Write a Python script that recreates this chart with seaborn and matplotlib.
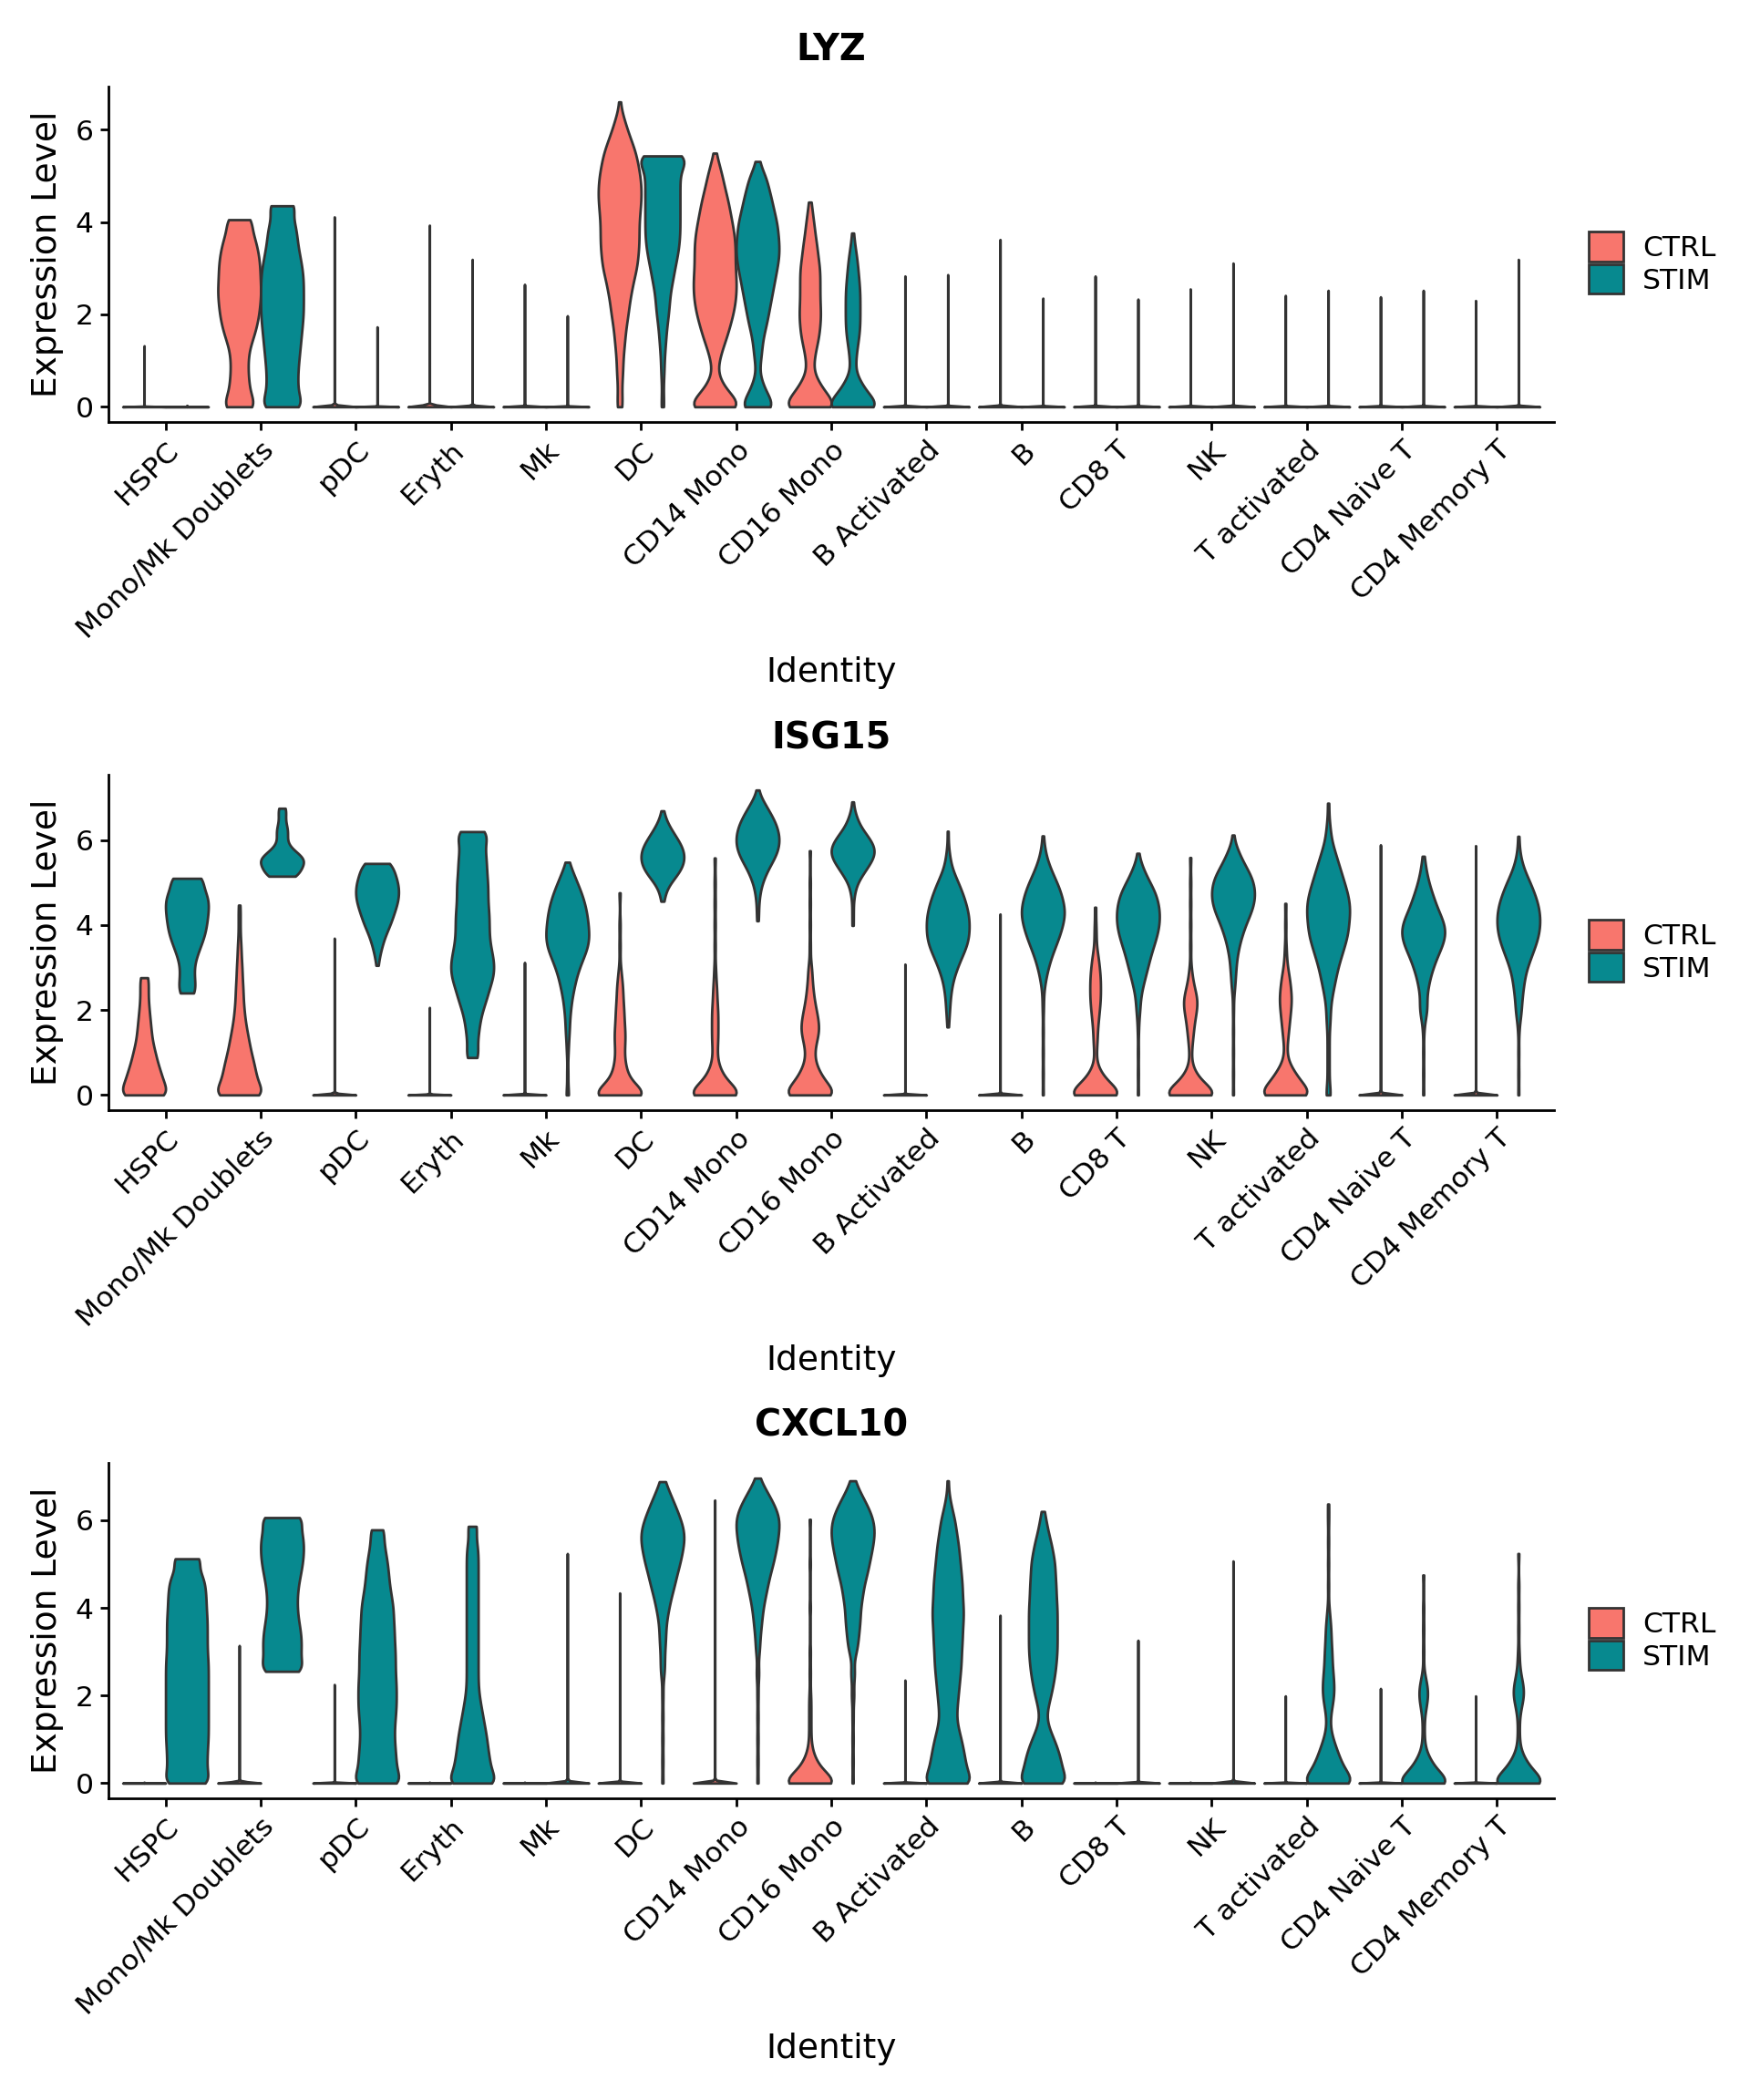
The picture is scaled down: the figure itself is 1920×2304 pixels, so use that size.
import matplotlib

matplotlib.use("Agg")
import matplotlib.pyplot as plt
import numpy as np
import pandas as pd
import seaborn as sns
from matplotlib.patches import Patch

CELL_TYPES = [
    "HSPC", "Mono/Mk Doublets", "pDC", "Eryth", "Mk", "DC", "CD14 Mono",
    "CD16 Mono", "B Activated", "B", "CD8 T", "NK", "T activated",
    "CD4 Naive T", "CD4 Memory T",
]
CONDITIONS = ["CTRL", "STIM"]
COLORS = ["#F8766D", "#07898F"]

# each violin = list of (expression value, number of cells)
LYZ_CTRL = [
    [(0, 2000), (1.32, 1)],
    [(0, 18), (0.25, 10), (0.5, 9), (0.75, 8), (1.0, 8), (1.25, 9), (1.5, 13), (1.75, 16),
     (2.0, 18), (2.25, 19), (2.5, 20), (2.75, 19), (3.0, 19), (3.25, 18), (3.5, 16),
     (3.75, 13), (4.05, 15)],
    [(0, 2000), (1.5, 1), (2.0, 1), (4.11, 1)],
    [(0, 2000), (0.9, 1), (1.3, 1), (2.6, 1), (3.4, 1), (3.93, 1)],
    [(0, 2000), (2.65, 1)],
    [(0, 3), (0.25, 2), (0.5, 2), (0.75, 3), (1.0, 3), (1.25, 4), (1.5, 5), (1.75, 6),
     (2.0, 8), (2.25, 9), (2.5, 11), (2.75, 13), (3.0, 16), (3.25, 17), (3.5, 18),
     (3.75, 18), (4.0, 18), (4.25, 19), (4.5, 20), (4.75, 20), (5.0, 19), (5.25, 17),
     (5.5, 15), (5.75, 11), (6.0, 7), (6.25, 4), (6.6, 1)],
    [(0, 30), (0.25, 15), (0.5, 7), (0.75, 2), (1.0, 4), (1.25, 7), (1.5, 11), (1.75, 14),
     (2.0, 17), (2.25, 19), (2.5, 20), (2.75, 20), (3.0, 19), (3.25, 19), (3.5, 19),
     (3.75, 18), (4.0, 16), (4.25, 14), (4.5, 12), (4.75, 9), (5.0, 7), (5.25, 4),
     (5.49, 1)],
    [(0, 32), (0.25, 17), (0.5, 10), (0.75, 3), (1.0, 4), (1.25, 6), (1.5, 9), (1.75, 10),
     (2.0, 11), (2.25, 10), (2.5, 10), (2.75, 10), (3.0, 10), (3.25, 8), (3.5, 7),
     (3.75, 5), (4.0, 4), (4.25, 2), (4.43, 1)],
    [(0, 2000), (2.83, 1)],
    [(0, 2000), (3.62, 1)],
    [(0, 2000), (2.83, 1)],
    [(0, 2000), (2.55, 1)],
    [(0, 2000), (2.41, 1)],
    [(0, 2000), (2.38, 1)],
    [(0, 2000), (2.30, 1)],
]
LYZ_STIM = [
    [(0, 2000), (0.03, 1)],
    [(0, 22), (0.25, 14), (0.5, 14), (0.75, 14), (1.0, 15), (1.25, 16), (1.5, 17),
     (1.75, 18), (2.0, 19), (2.25, 19), (2.5, 19), (2.75, 19), (3.0, 18), (3.25, 16),
     (3.5, 14), (3.75, 13), (4.0, 12), (4.35, 17)],
    [(0, 2000), (1.73, 1)],
    [(0, 2000), (1.8, 1), (3.19, 1)],
    [(0, 2000), (1.97, 1)],
    [(0, 2), (0.25, 1), (0.5, 1), (0.75, 2), (1.0, 2), (1.25, 3), (1.5, 4), (1.75, 5),
     (2.0, 7), (2.25, 8), (2.5, 9), (2.75, 12), (3.0, 14), (3.25, 17), (3.5, 19),
     (3.75, 20), (4.0, 20), (4.25, 20), (4.5, 20), (4.75, 20), (5.0, 20), (5.25, 20),
     (5.43, 28)],
    [(0, 19), (0.25, 9), (0.5, 5), (0.75, 1), (1.0, 3), (1.25, 4), (1.5, 5), (1.75, 8),
     (2.0, 10), (2.25, 12), (2.5, 14), (2.75, 16), (3.0, 18), (3.25, 20), (3.5, 20),
     (3.75, 19), (4.0, 18), (4.25, 15), (4.5, 13), (4.75, 10), (5.0, 8), (5.31, 2)],
    [(0, 32), (0.25, 15), (0.5, 9), (0.75, 2), (1.0, 3), (1.25, 4), (1.5, 6), (1.75, 7),
     (2.0, 7), (2.25, 7), (2.5, 7), (2.75, 6), (3.0, 5), (3.25, 4), (3.5, 2), (3.76, 1)],
    [(0, 2000), (2.86, 1)],
    [(0, 2000), (2.35, 1)],
    [(0, 2000), (2.33, 1)],
    [(0, 2000), (3.11, 1)],
    [(0, 2000), (2.52, 1)],
    [(0, 2000), (2.52, 1)],
    [(0, 2000), (3.19, 1)],
]

ISG15_CTRL = [
    [(0, 28), (0.25, 19), (0.5, 17), (0.75, 13), (1.0, 11), (1.25, 8), (1.5, 7),
     (1.75, 6), (2.0, 5), (2.25, 4), (2.5, 4), (2.76, 5)],
    [(0, 30), (0.25, 19), (0.5, 17), (0.75, 15), (1.0, 12), (1.25, 10), (1.5, 8),
     (1.75, 6), (2.0, 5), (2.25, 4), (2.5, 4), (2.75, 3), (3.0, 3), (3.25, 2), (3.5, 2),
     (3.75, 1), (4.0, 1), (4.25, 1), (4.47, 1)],
    [(0, 2000), (1.4, 1), (2.4, 1), (3.69, 1)],
    [(0, 2000), (1.3, 1), (2.06, 1)],
    [(0, 2000), (3.12, 1)],
    [(0, 32), (0.25, 12), (0.5, 7), (0.75, 5), (1.0, 4), (1.25, 5), (1.5, 5), (1.75, 4),
     (2.0, 4), (2.25, 3), (2.5, 3), (2.75, 2), (3.0, 1), (3.5, 1), (4.0, 1), (4.76, 1)],
    [(0, 32), (0.25, 14), (0.5, 7), (0.75, 3), (1.0, 2), (1.25, 3), (1.5, 3), (1.75, 3),
     (2.0, 3), (2.25, 2), (2.5, 2), (2.75, 1), (3.0, 1), (3.5, 1), (4.0, 1), (4.5, 1),
     (5.0, 1), (5.58, 1)],
    [(0, 30), (0.25, 16), (0.5, 10), (0.75, 5), (1.0, 4), (1.25, 6), (1.5, 9), (1.75, 8),
     (2.0, 6), (2.25, 4), (2.5, 3), (2.75, 2), (3.0, 2), (3.5, 1), (4.0, 1), (4.5, 1),
     (5.0, 1), (5.75, 1)],
    [(0, 2000), (3.08, 1)],
    [(0, 2000), (4.26, 1)],
    [(0, 32), (0.25, 14), (0.5, 6), (0.75, 1), (1.0, 1), (1.25, 2), (1.5, 2), (1.75, 3),
     (2.0, 4), (2.25, 5), (2.5, 5), (2.75, 5), (3.0, 4), (3.25, 3), (3.5, 1), (3.75, 1),
     (4.0, 1), (4.42, 1)],
    [(0, 32), (0.25, 13), (0.5, 5), (0.75, 1), (1.0, 1), (1.25, 2), (1.5, 3), (1.75, 4),
     (2.0, 6), (2.25, 7), (2.5, 4), (2.75, 2), (3.0, 1), (3.5, 1), (4.0, 1), (4.5, 1),
     (5.0, 1), (5.59, 1)],
    [(0, 30), (0.25, 16), (0.5, 10), (0.75, 3), (1.0, 1), (1.25, 2), (1.5, 3), (1.75, 4),
     (2.0, 5), (2.25, 6), (2.5, 5), (2.75, 4), (3.0, 2), (3.25, 1), (3.5, 1), (4.0, 1),
     (4.51, 1)],
    [(0, 2000), (5.89, 1)],
    [(0, 2000), (5.87, 1)],
]
ISG15_STIM = [
    [(2.4, 10), (2.6, 7), (2.8, 7), (3.0, 6), (3.2, 8), (3.4, 11), (3.6, 14), (3.8, 17),
     (4.0, 18), (4.2, 19), (4.4, 20), (4.6, 20), (4.8, 19), (5.1, 25)],
    [(5.15, 18), (5.25, 12), (5.35, 13), (5.45, 17), (5.55, 20), (5.65, 14), (5.75, 8),
     (5.85, 5), (5.95, 3), (6.05, 3), (6.15, 5), (6.25, 5), (6.35, 3), (6.45, 2),
     (6.55, 2), (6.65, 3), (6.75, 5)],
    [(3.05, 1), (3.25, 2), (3.45, 4), (3.65, 6), (3.85, 9), (4.05, 13), (4.25, 15),
     (4.45, 18), (4.65, 20), (4.85, 20), (5.05, 19), (5.25, 15), (5.45, 16)],
    [(0.88, 4), (1.0, 3), (1.25, 4), (1.5, 5), (1.75, 6), (2.0, 8), (2.25, 11), (2.5, 13),
     (2.75, 16), (3.0, 17), (3.25, 16), (3.5, 14), (3.75, 13), (4.0, 13), (4.25, 13),
     (4.5, 12), (4.75, 12), (5.0, 12), (5.25, 11), (5.5, 11), (5.75, 10), (6.0, 9),
     (6.2, 12)],
    [(0, 2), (0.5, 1), (1.0, 1), (1.25, 1), (1.5, 2), (1.75, 2), (2.0, 3), (2.25, 4),
     (2.5, 6), (2.75, 8), (3.0, 11), (3.25, 15), (3.5, 19), (3.75, 20), (4.0, 19),
     (4.25, 18), (4.5, 16), (4.75, 13), (5.0, 9), (5.25, 5), (5.48, 1)],
    [(4.56, 1), (4.7, 2), (4.9, 5), (5.1, 11), (5.3, 17), (5.5, 20), (5.7, 20), (5.9, 17),
     (6.1, 12), (6.3, 7), (6.5, 3), (6.69, 1)],
    [(4.1, 1), (4.3, 1), (4.5, 1), (4.7, 2), (4.9, 3), (5.1, 6), (5.3, 9), (5.5, 14),
     (5.7, 18), (5.9, 20), (6.1, 20), (6.3, 18), (6.5, 15), (6.7, 10), (6.9, 6),
     (7.18, 1)],
    [(3.99, 1), (4.3, 1), (4.6, 1), (4.8, 2), (5.0, 4), (5.2, 9), (5.4, 14), (5.6, 19),
     (5.8, 20), (6.0, 16), (6.2, 10), (6.4, 5), (6.6, 3), (6.9, 1)],
    [(1.6, 1), (1.8, 1), (2.0, 2), (2.2, 2), (2.4, 3), (2.6, 4), (2.8, 6), (3.0, 9),
     (3.2, 12), (3.4, 16), (3.6, 19), (3.8, 20), (4.0, 20), (4.2, 20), (4.4, 18),
     (4.6, 16), (4.8, 13), (5.0, 10), (5.2, 6), (5.4, 3), (5.6, 2), (5.8, 1), (6.21, 1)],
    [(0, 1), (0.5, 1), (1.0, 1), (1.5, 1), (2.0, 1), (2.3, 1), (2.6, 2), (2.8, 3),
     (3.0, 5), (3.2, 7), (3.4, 10), (3.6, 13), (3.8, 16), (4.0, 18), (4.2, 20), (4.4, 20),
     (4.6, 18), (4.8, 16), (5.0, 13), (5.2, 9), (5.4, 6), (5.6, 3), (5.8, 2), (6.1, 1)],
    [(0, 1), (0.5, 1), (1.0, 1), (1.5, 1), (1.8, 1), (2.0, 2), (2.2, 2), (2.4, 3),
     (2.6, 5), (2.8, 7), (3.0, 9), (3.2, 11), (3.4, 13), (3.6, 16), (3.8, 18), (4.0, 20),
     (4.2, 20), (4.4, 20), (4.6, 18), (4.8, 16), (5.0, 11), (5.2, 7), (5.4, 4),
     (5.69, 1)],
    [(0, 1), (0.5, 1), (1.0, 1), (1.5, 1), (2.0, 1), (2.4, 1), (2.6, 2), (2.8, 2),
     (3.0, 3), (3.2, 3), (3.4, 5), (3.6, 6), (3.8, 9), (4.0, 11), (4.2, 15), (4.4, 18),
     (4.6, 20), (4.8, 20), (5.0, 19), (5.2, 16), (5.4, 11), (5.6, 7), (5.8, 4),
     (6.12, 1)],
    [(0, 3), (0.25, 1), (0.5, 1), (0.75, 1), (1.0, 1), (1.25, 1), (1.5, 1), (1.75, 2),
     (2.0, 2), (2.25, 3), (2.5, 5), (2.75, 7), (3.0, 9), (3.25, 12), (3.5, 15),
     (3.75, 18), (4.0, 19), (4.25, 20), (4.5, 20), (4.75, 18), (5.0, 15), (5.25, 12),
     (5.5, 9), (5.75, 6), (6.0, 3), (6.25, 2), (6.5, 1), (6.87, 1)],
    [(0, 1), (0.5, 1), (1.0, 1), (1.5, 1), (1.8, 2), (2.0, 4), (2.2, 3), (2.4, 3),
     (2.6, 5), (2.8, 6), (3.0, 9), (3.2, 11), (3.4, 15), (3.6, 18), (3.8, 20), (4.0, 19),
     (4.2, 16), (4.4, 12), (4.6, 10), (4.8, 7), (5.0, 5), (5.2, 3), (5.4, 2), (5.62, 1)],
    [(0, 1), (0.5, 1), (1.0, 1), (1.5, 1), (1.8, 2), (2.0, 3), (2.2, 3), (2.4, 4),
     (2.6, 5), (2.8, 6), (3.0, 8), (3.2, 11), (3.4, 14), (3.6, 17), (3.8, 19), (4.0, 20),
     (4.2, 20), (4.4, 19), (4.6, 17), (4.8, 14), (5.0, 11), (5.2, 7), (5.4, 4), (5.6, 2),
     (5.8, 1), (6.09, 1)],
]

CXCL10_CTRL = [
    [(0, 2000), (0.02, 1)],
    [(0, 2000), (2.7, 1), (2.9, 1), (3.14, 1)],
    [(0, 2000), (2.25, 1)],
    [(0, 2000), (0.02, 1)],
    [(0, 2000), (0.02, 1)],
    [(0, 2000), (4.34, 1)],
    [(0, 2000), (6.46, 1)],
    [(0, 32), (0.25, 12), (0.5, 6), (0.75, 2), (1.0, 1), (1.25, 1), (1.5, 1), (1.75, 1),
     (2.0, 1), (2.5, 1), (3.0, 1), (4.0, 1), (5.0, 1), (6.02, 1)],
    [(0, 2000), (2.35, 1)],
    [(0, 2000), (3.83, 1)],
    [(0, 2000), (0.02, 1)],
    [(0, 2000), (0.02, 1)],
    [(0, 2000), (1.99, 1)],
    [(0, 2000), (2.16, 1)],
    [(0, 2000), (1.99, 1)],
]
CXCL10_STIM = [
    [(0, 25), (0.25, 18), (0.5, 19), (0.75, 19), (1.0, 20), (1.25, 20), (1.5, 20),
     (1.75, 20), (2.0, 20), (2.25, 20), (2.5, 20), (2.75, 20), (3.0, 19), (3.25, 19),
     (3.5, 19), (3.75, 19), (4.0, 18), (4.25, 18), (4.5, 17), (4.75, 16), (5.12, 19)],
    [(2.55, 20), (2.75, 15), (3.0, 18), (3.25, 18), (3.5, 17), (3.75, 15), (4.0, 14),
     (4.25, 14), (4.5, 15), (4.75, 17), (5.0, 19), (5.25, 20), (5.5, 20), (5.75, 19),
     (6.06, 26)],
    [(0, 30), (0.25, 20), (0.5, 20), (0.75, 19), (1.0, 18), (1.25, 18), (1.5, 19),
     (1.75, 20), (2.0, 20), (2.25, 20), (2.5, 19), (2.75, 19), (3.0, 19), (3.25, 18),
     (3.5, 18), (3.75, 17), (4.0, 17), (4.25, 15), (4.5, 13), (4.75, 12), (5.0, 11),
     (5.25, 9), (5.5, 7), (5.78, 9)],
    [(0, 30), (0.25, 19), (0.5, 18), (0.75, 16), (1.0, 15), (1.25, 13), (1.5, 11),
     (1.75, 9), (2.0, 7), (2.25, 6), (2.5, 6), (2.75, 6), (3.0, 6), (3.25, 6), (3.5, 6),
     (3.75, 6), (4.0, 6), (4.25, 6), (4.5, 6), (4.75, 6), (5.0, 6), (5.25, 6), (5.5, 5),
     (5.86, 7)],
    [(0, 2000), (2.3, 1), (5.24, 1)],
    [(0, 1), (0.5, 1), (1.0, 1), (1.5, 1), (2.0, 1), (2.5, 2), (2.75, 2), (3.0, 2),
     (3.25, 3), (3.5, 3), (3.75, 4), (4.0, 6), (4.25, 8), (4.5, 11), (4.75, 13),
     (5.0, 16), (5.25, 18), (5.5, 20), (5.75, 20), (6.0, 17), (6.25, 13), (6.5, 9),
     (6.75, 4), (6.88, 1)],
    [(0, 1), (0.5, 1), (1.0, 1), (1.5, 1), (2.0, 1), (2.5, 2), (3.0, 2), (3.25, 2),
     (3.5, 3), (3.75, 4), (4.0, 5), (4.25, 7), (4.5, 9), (4.75, 11), (5.0, 14),
     (5.25, 16), (5.5, 18), (5.75, 19), (6.0, 20), (6.25, 17), (6.5, 12), (6.75, 6),
     (6.96, 1)],
    [(0, 1), (0.5, 1), (1.0, 1), (1.5, 1), (2.0, 2), (2.5, 3), (3.0, 4), (3.25, 5),
     (3.5, 6), (3.75, 7), (4.0, 7), (4.25, 9), (4.5, 10), (4.75, 13), (5.0, 15),
     (5.25, 17), (5.5, 19), (5.75, 20), (6.0, 19), (6.25, 15), (6.5, 10), (6.75, 4),
     (6.9, 1)],
    [(0, 28), (0.25, 18), (0.5, 17), (0.75, 15), (1.0, 13), (1.25, 10), (1.5, 8),
     (1.75, 9), (2.0, 10), (2.25, 11), (2.5, 12), (2.75, 13), (3.0, 13), (3.25, 14),
     (3.5, 14), (3.75, 15), (4.0, 15), (4.25, 14), (4.5, 14), (4.75, 13), (5.0, 12),
     (5.25, 11), (5.5, 10), (5.75, 8), (6.0, 7), (6.25, 4), (6.5, 2), (6.9, 1)],
    [(0, 28), (0.25, 19), (0.5, 18), (0.75, 15), (1.0, 11), (1.25, 6), (1.5, 3),
     (1.75, 5), (2.0, 8), (2.25, 10), (2.5, 12), (2.75, 13), (3.0, 14), (3.25, 14),
     (3.5, 14), (3.75, 14), (4.0, 14), (4.25, 13), (4.5, 13), (4.75, 12), (5.0, 12),
     (5.25, 10), (5.5, 8), (5.75, 5), (6.0, 3), (6.2, 1)],
    [(0, 2000), (3.26, 1)],
    [(0, 2000), (5.07, 1)],
    [(0, 32), (0.25, 18), (0.5, 13), (0.75, 9), (1.0, 5), (1.25, 2), (1.5, 2), (1.75, 4),
     (2.0, 6), (2.25, 6), (2.5, 5), (2.75, 4), (3.0, 4), (3.25, 3), (3.5, 3), (3.75, 2),
     (4.0, 1), (4.5, 1), (5.0, 1), (5.5, 1), (6.0, 1), (6.37, 1)],
    [(0, 34), (0.25, 14), (0.5, 8), (0.75, 2), (1.0, 1), (1.25, 1), (1.5, 1), (1.75, 3),
     (2.0, 5), (2.25, 4), (2.5, 1), (3.0, 1), (3.5, 1), (4.0, 1), (4.75, 1)],
    [(0, 34), (0.25, 15), (0.5, 8), (0.75, 2), (1.0, 1), (1.25, 1), (1.5, 1), (1.75, 3),
     (2.0, 6), (2.25, 5), (2.5, 2), (2.75, 1), (3.0, 1), (3.5, 1), (4.0, 1), (4.5, 1),
     (5.24, 1)],
]

GENES = [
    ("LYZ", LYZ_CTRL, LYZ_STIM),
    ("ISG15", ISG15_CTRL, ISG15_STIM),
    ("CXCL10", CXCL10_CTRL, CXCL10_STIM),
]


def build_table(ctrl, stim):
    rows = []
    for cond, violins in zip(CONDITIONS, [ctrl, stim]):
        for cell, pairs in zip(CELL_TYPES, violins):
            for value, count in pairs:
                rows.extend([(cell, cond, value)] * count)
    return pd.DataFrame(rows, columns=["Identity", "Condition", "Expression"])


def nrd_bandwidth(kde):
    # R-like nrd0 bandwidth, capped so the shapes stay close to the read profile
    obs = np.asarray(kde.dataset).ravel()
    sd = obs.std()
    bw = min(0.2, 0.9 * sd * len(obs) ** -0.2)
    return bw / sd


sns.set_style("ticks")
plt.rcParams["font.family"] = ["DejaVu Sans"]
plt.rcParams["text.color"] = "black"
plt.rcParams["axes.labelcolor"] = "black"

W, H = 1920, 2304
fig = plt.figure(figsize=(W / 200, H / 200), dpi=200)

AX_LEFT, AX_RIGHT = 119, 1705
AX_TOP0, AX_H, STEP = 95, 368, 755
palette = dict(zip(CONDITIONS, COLORS))

for k, (gene, ctrl, stim) in enumerate(GENES):
    top = AX_TOP0 + k * STEP
    ax = fig.add_axes([
        AX_LEFT / W, 1 - (top + AX_H) / H, (AX_RIGHT - AX_LEFT) / W, AX_H / H
    ])
    df = build_table(ctrl, stim)
    sns.violinplot(
        data=df, x="Identity", y="Expression", hue="Condition",
        order=CELL_TYPES, hue_order=CONDITIONS, palette=palette, saturation=1,
        width=0.9, gap=0, dodge=True, cut=0, density_norm="width", inner=None,
        bw_method=nrd_bandwidth, linewidth=1.0, linecolor="#333333",
        legend=False, ax=ax,
    )
    for coll in ax.collections:
        coll.set_joinstyle("round")
        coll.set_capstyle("round")

    ymax = df["Expression"].max()
    ax.set_ylim(-0.05 * ymax, 1.05 * ymax)
    ax.set_xlim(-0.6, len(CELL_TYPES) - 0.4)
    ax.set_yticks([0, 2, 4, 6])
    ax.set_xlabel("")
    ax.set_ylabel("")
    ax.set_xticks(range(len(CELL_TYPES)))
    ax.set_xticklabels(CELL_TYPES, rotation=45, ha="right", va="top",
                       rotation_mode="anchor")
    ax.tick_params(axis="both", labelsize=11.3, colors="black", labelcolor="black",
                   width=1.0, length=3.3, pad=2.5)
    sns.despine(ax=ax)
    for side in ["left", "bottom"]:
        ax.spines[side].set_linewidth(1.0)
        ax.spines[side].set_color("black")

    cx = (AX_LEFT + AX_RIGHT) / 2 / W
    fig.text(cx, 1 - (55 + k * STEP) / H, gene, ha="center", va="center",
             fontsize=14.3, fontweight="bold", color="black")
    fig.text(cx, 1 - (738 + k * STEP) / H, "Identity", ha="center", va="center",
             fontsize=13.5, color="black")
    fig.text(52 / W, 1 - (top + AX_H / 2) / H, "Expression Level", rotation=90,
             ha="center", va="center", fontsize=13.5, color="black")

    handles = [Patch(facecolor=c, edgecolor="#333333", linewidth=1.0) for c in COLORS]
    leg = ax.legend(handles, CONDITIONS, loc="center left",
                    bbox_to_anchor=((1743 - AX_LEFT) / (AX_RIGHT - AX_LEFT),
                                    (AX_H - 193.5) / AX_H),
                    frameon=False, fontsize=11.3, borderpad=0, borderaxespad=0,
                    handlelength=1.21, handleheight=1.21, labelspacing=0.1,
                    handletextpad=0.67)
    for txt in leg.get_texts():
        txt.set_color("black")

fig.savefig("out.png", dpi=200, facecolor="white")
